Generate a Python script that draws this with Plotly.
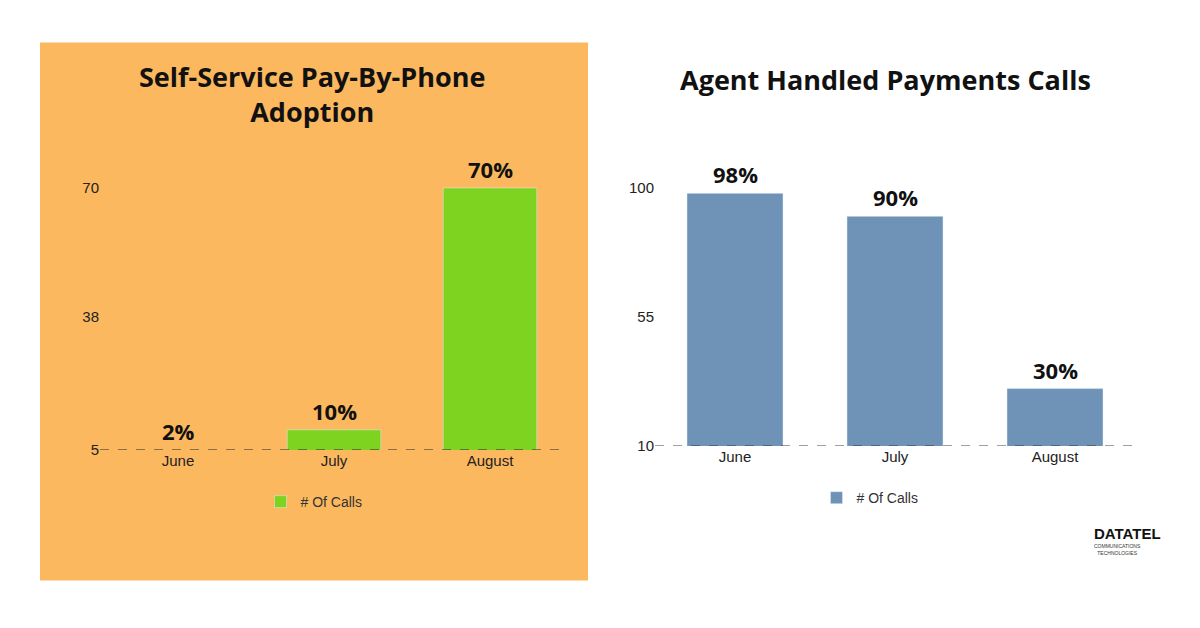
import plotly.graph_objects as go

months = ["June", "July", "August"]
adoption = [2, 10, 70]
agent = [98, 90, 30]
left_ticks = [5, 38, 70]
right_ticks = [10, 55, 100]

W, H = 1184, 612
OFF = 8
fx = lambda p: (p - OFF) / W
fy = lambda p: 1 - (p - OFF) / H

fig = go.Figure()
fig.add_trace(go.Bar(x=months, y=adoption, marker_color="#7ED321", width=0.6, showlegend=True,
                     name="# Of Calls", xaxis="x", yaxis="y", legend="legend"))
fig.add_trace(go.Bar(x=months, y=agent, marker_color="#6E93B7", width=0.6, showlegend=True,
                     name="# Of Calls", xaxis="x2", yaxis="y2", legend="legend2"))

font = dict(family="Liberation Sans, Arial", size=15, color="#222")
ax = dict(showgrid=False, zeroline=False, showline=False, tickfont=font, ticks="")
lg = dict(xanchor="center", yanchor="middle", bgcolor="rgba(0,0,0,0)",
          font=dict(family="Liberation Sans, Arial", size=14, color="#333"))
fig.update_layout(
    width=W, height=H, margin=dict(l=0, r=0, t=0, b=0), showlegend=True,
    paper_bgcolor="white", plot_bgcolor="rgba(0,0,0,0)", bargap=0.4,
    xaxis=dict(domain=[fx(100), fx(568)], anchor="y", **ax),
    yaxis=dict(domain=[fy(455), fy(180)], anchor="x", range=[left_ticks[0], 72], tickvals=left_ticks, **ax),
    xaxis2=dict(domain=[fx(655), fx(1135)], anchor="y2", **ax),
    yaxis2=dict(domain=[fy(451), fy(182)], anchor="x2", range=[right_ticks[0], 102], tickvals=right_ticks, **ax),
    legend=dict(x=fx(314), y=fy(508), **lg),
    legend2=dict(x=fx(870), y=fy(504), **lg),
    shapes=[
        dict(type="rect", xref="paper", yref="paper", x0=fx(40), x1=fx(588), y0=fy(588), y1=fy(40),
             fillcolor="#FBB85F", line_width=0, layer="below"),
        dict(type="line", xref="x domain", yref="y", x0=0, x1=1, y0=left_ticks[0], y1=left_ticks[0],
             line=dict(color="#333", width=1, dash="dash")),
        dict(type="line", xref="x2 domain", yref="y2", x0=0, x1=1, y0=right_ticks[0], y1=right_ticks[0],
             line=dict(color="#333", width=1, dash="dash")),
    ],
)

lab = dict(family="Open Sans", size=22, color="#111")
for m, v in zip(months, adoption):
    fig.add_annotation(x=m, y=max(v, left_ticks[0]), xref="x", yref="y", text=f"<b>{v}%</b>",
                       showarrow=False, yanchor="bottom", yshift=2, font=lab)
for m, v in zip(months, agent):
    fig.add_annotation(x=m, y=max(v, right_ticks[0]), xref="x2", yref="y2", text=f"<b>{v}%</b>",
                       showarrow=False, yanchor="bottom", yshift=2, font=lab)

tfont = dict(family="Open Sans", size=27, color="#111")
fig.add_annotation(x=fx(312), y=fy(93), xref="paper", yref="paper", showarrow=False,
                   xanchor="center", yanchor="middle",
                   text="<b>Self-Service Pay-By-Phone<br>Adoption</b>", font=tfont, align="center")
fig.add_annotation(x=fx(885), y=fy(78), xref="paper", yref="paper", showarrow=False,
                   xanchor="center", yanchor="middle",
                   text="<b>Agent Handled Payments Calls</b>", font=tfont)
fig.add_annotation(x=fx(1092), y=fy(540), xref="paper", yref="paper", showarrow=False,
                   xanchor="left", yanchor="middle",
                   text="<b>DATATEL</b>", font=dict(family="Liberation Sans", size=15, color="#111"))
fig.add_annotation(x=fx(1092), y=fy(556), xref="paper", yref="paper", showarrow=False,
                   xanchor="left", yanchor="middle",
                   text="COMMUNICATIONS<br>TECHNOLOGIES", font=dict(family="Liberation Sans", size=5, color="#333"))

fig.write_html("out.html")
